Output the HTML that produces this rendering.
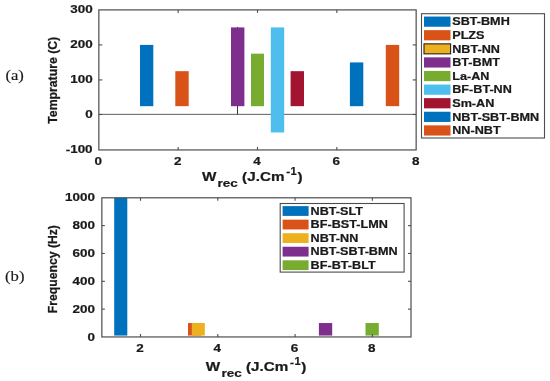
<!DOCTYPE html>
<html lang="en"><head><meta charset="utf-8"><title>Figure</title>
<style>
html,body{margin:0;padding:0;background:#fff;}
body{width:550px;height:381px;overflow:hidden;}
svg{display:block;}
</style></head>
<body>
<svg width="550" height="381" viewBox="0 0 550 381">
<rect x="0" y="0" width="550" height="381" fill="#ffffff"/>
<line x1="98.85" y1="114.35" x2="416.15" y2="114.35" stroke="#555" stroke-width="0.95"/>
<line x1="237.50" y1="114.35" x2="237.50" y2="26.91" stroke="#222" stroke-width="0.9"/>
<rect x="140.00" y="44.91" width="13.30" height="61.27" fill="#0072BD"/>
<rect x="175.30" y="71.17" width="13.40" height="35.01" fill="#D95319"/>
<rect x="231.00" y="27.41" width="13.40" height="78.78" fill="#7E2F8E"/>
<rect x="251.00" y="53.67" width="13.00" height="52.52" fill="#77AC30"/>
<rect x="270.80" y="27.41" width="13.40" height="105.04" fill="#4DBEEE"/>
<rect x="290.60" y="71.17" width="13.40" height="35.01" fill="#A2142F"/>
<rect x="349.90" y="62.42" width="13.40" height="43.77" fill="#0072BD"/>
<rect x="385.80" y="44.91" width="13.40" height="61.27" fill="#D95319"/>
<rect x="98.85" y="9.9" width="317.30" height="140.05" fill="none" stroke="#4d4d4d" stroke-width="1.2"/>
<line x1="178.17" y1="149.95" x2="178.17" y2="146.95" stroke="#4d4d4d" stroke-width="1.1"/>
<line x1="178.17" y1="9.90" x2="178.17" y2="12.90" stroke="#4d4d4d" stroke-width="1.1"/>
<line x1="257.50" y1="149.95" x2="257.50" y2="146.95" stroke="#4d4d4d" stroke-width="1.1"/>
<line x1="257.50" y1="9.90" x2="257.50" y2="12.90" stroke="#4d4d4d" stroke-width="1.1"/>
<line x1="336.82" y1="149.95" x2="336.82" y2="146.95" stroke="#4d4d4d" stroke-width="1.1"/>
<line x1="336.82" y1="9.90" x2="336.82" y2="12.90" stroke="#4d4d4d" stroke-width="1.1"/>
<text transform="translate(92.60,153.45) scale(1.2,1)" font-family='"Liberation Sans", Arial, Helvetica, sans-serif' font-size="11.2" font-weight="bold" text-anchor="end" fill="#1a1a1a" stroke="#1a1a1a" stroke-width="0.22">-100</text>
<line x1="98.85" y1="114.50" x2="102.25" y2="114.50" stroke="#4d4d4d" stroke-width="1.1"/>
<line x1="416.15" y1="114.50" x2="412.75" y2="114.50" stroke="#4d4d4d" stroke-width="1.1"/>
<text transform="translate(92.60,118.44) scale(1.2,1)" font-family='"Liberation Sans", Arial, Helvetica, sans-serif' font-size="11.2" font-weight="bold" text-anchor="end" fill="#1a1a1a" stroke="#1a1a1a" stroke-width="0.22">0</text>
<line x1="98.85" y1="79.92" x2="102.25" y2="79.92" stroke="#4d4d4d" stroke-width="1.1"/>
<line x1="416.15" y1="79.92" x2="412.75" y2="79.92" stroke="#4d4d4d" stroke-width="1.1"/>
<text transform="translate(92.60,83.42) scale(1.2,1)" font-family='"Liberation Sans", Arial, Helvetica, sans-serif' font-size="11.2" font-weight="bold" text-anchor="end" fill="#1a1a1a" stroke="#1a1a1a" stroke-width="0.22">100</text>
<line x1="98.85" y1="44.91" x2="102.25" y2="44.91" stroke="#4d4d4d" stroke-width="1.1"/>
<line x1="416.15" y1="44.91" x2="412.75" y2="44.91" stroke="#4d4d4d" stroke-width="1.1"/>
<text transform="translate(92.60,48.41) scale(1.2,1)" font-family='"Liberation Sans", Arial, Helvetica, sans-serif' font-size="11.2" font-weight="bold" text-anchor="end" fill="#1a1a1a" stroke="#1a1a1a" stroke-width="0.22">200</text>
<text transform="translate(92.60,13.40) scale(1.2,1)" font-family='"Liberation Sans", Arial, Helvetica, sans-serif' font-size="11.2" font-weight="bold" text-anchor="end" fill="#1a1a1a" stroke="#1a1a1a" stroke-width="0.22">300</text>
<text transform="translate(98.35,165.10) scale(1.2,1)" font-family='"Liberation Sans", Arial, Helvetica, sans-serif' font-size="11.2" font-weight="bold" text-anchor="middle" fill="#1a1a1a" stroke="#1a1a1a" stroke-width="0.22">0</text>
<text transform="translate(177.67,165.10) scale(1.2,1)" font-family='"Liberation Sans", Arial, Helvetica, sans-serif' font-size="11.2" font-weight="bold" text-anchor="middle" fill="#1a1a1a" stroke="#1a1a1a" stroke-width="0.22">2</text>
<text transform="translate(257.00,165.10) scale(1.2,1)" font-family='"Liberation Sans", Arial, Helvetica, sans-serif' font-size="11.2" font-weight="bold" text-anchor="middle" fill="#1a1a1a" stroke="#1a1a1a" stroke-width="0.22">4</text>
<text transform="translate(336.32,165.10) scale(1.2,1)" font-family='"Liberation Sans", Arial, Helvetica, sans-serif' font-size="11.2" font-weight="bold" text-anchor="middle" fill="#1a1a1a" stroke="#1a1a1a" stroke-width="0.22">6</text>
<text transform="translate(415.65,165.10) scale(1.2,1)" font-family='"Liberation Sans", Arial, Helvetica, sans-serif' font-size="11.2" font-weight="bold" text-anchor="middle" fill="#1a1a1a" stroke="#1a1a1a" stroke-width="0.22">8</text>
<text transform="translate(201.90,181.00) scale(1.25,1)" font-family='"Liberation Sans", Arial, Helvetica, sans-serif' font-size="12.2" font-weight="bold" text-anchor="start" fill="#1a1a1a" stroke="#1a1a1a" stroke-width="0.22">W</text>
<text transform="translate(217.60,186.60) scale(1.25,1)" font-family='"Liberation Sans", Arial, Helvetica, sans-serif' font-size="10.8" font-weight="bold" text-anchor="start" fill="#1a1a1a" stroke="#1a1a1a" stroke-width="0.22">rec</text>
<text transform="translate(242.10,181.00) scale(1.25,1)" font-family='"Liberation Sans", Arial, Helvetica, sans-serif' font-size="12.2" font-weight="bold" text-anchor="start" fill="#1a1a1a" stroke="#1a1a1a" stroke-width="0.22">(J.Cm</text>
<text transform="translate(286.20,175.40) scale(1.2,1)" font-family='"Liberation Sans", Arial, Helvetica, sans-serif' font-size="10.0" font-weight="bold" text-anchor="start" fill="#1a1a1a" stroke="#1a1a1a" stroke-width="0.22">-</text>
<text transform="translate(290.60,175.00) scale(1.05,1)" font-family='"Liberation Sans", Arial, Helvetica, sans-serif' font-size="10.6" font-weight="bold" text-anchor="start" fill="#1a1a1a" stroke="#1a1a1a" stroke-width="0.22">1</text>
<text transform="translate(297.40,181.00) scale(1.25,1)" font-family='"Liberation Sans", Arial, Helvetica, sans-serif' font-size="12.2" font-weight="bold" text-anchor="start" fill="#1a1a1a" stroke="#1a1a1a" stroke-width="0.22">)</text>
<text transform="translate(57.40,80.30) rotate(-90) scale(1.005,1.08)" font-family='"Liberation Sans", Arial, Helvetica, sans-serif' font-size="12.2" font-weight="bold" text-anchor="middle" fill="#1a1a1a" stroke="#1a1a1a" stroke-width="0.25">Temprature (C)</text>
<text transform="translate(5.40,79.90) scale(1.15,1)" font-family='"Liberation Serif", "DejaVu Serif", serif' font-size="14.5" font-weight="normal" text-anchor="start" fill="#1a1a1a" stroke="#1a1a1a" stroke-width="0.15">(a)</text>
<rect x="421.5" y="13.7" width="123.00" height="124.30" fill="#fff" stroke="#4d4d4d" stroke-width="1.1"/>
<rect x="424.00" y="16.55" width="26.50" height="10.20" fill="#0072BD"/>
<text transform="translate(452.20,25.45) scale(1.265,1)" font-family='"Liberation Sans", Arial, Helvetica, sans-serif' font-size="10.0" font-weight="bold" text-anchor="start" fill="#1a1a1a" stroke="#1a1a1a" stroke-width="0.22">SBT-BMH</text>
<rect x="424.00" y="30.15" width="26.50" height="10.20" fill="#D95319"/>
<text transform="translate(452.20,39.05) scale(1.265,1)" font-family='"Liberation Sans", Arial, Helvetica, sans-serif' font-size="10.0" font-weight="bold" text-anchor="start" fill="#1a1a1a" stroke="#1a1a1a" stroke-width="0.22">PLZS</text>
<rect x="424.00" y="43.85" width="26.60" height="10.00" fill="#EDB120" stroke="#222" stroke-width="1.1"/>
<text transform="translate(452.20,52.65) scale(1.265,1)" font-family='"Liberation Sans", Arial, Helvetica, sans-serif' font-size="10.0" font-weight="bold" text-anchor="start" fill="#1a1a1a" stroke="#1a1a1a" stroke-width="0.22">NBT-NN</text>
<rect x="424.00" y="57.35" width="26.50" height="10.20" fill="#7E2F8E"/>
<text transform="translate(452.20,66.25) scale(1.265,1)" font-family='"Liberation Sans", Arial, Helvetica, sans-serif' font-size="10.0" font-weight="bold" text-anchor="start" fill="#1a1a1a" stroke="#1a1a1a" stroke-width="0.22">BT-BMT</text>
<rect x="424.00" y="70.95" width="26.50" height="10.20" fill="#77AC30"/>
<text transform="translate(452.20,79.85) scale(1.265,1)" font-family='"Liberation Sans", Arial, Helvetica, sans-serif' font-size="10.0" font-weight="bold" text-anchor="start" fill="#1a1a1a" stroke="#1a1a1a" stroke-width="0.22">La-AN</text>
<rect x="424.00" y="84.55" width="26.50" height="10.20" fill="#4DBEEE"/>
<text transform="translate(452.20,93.45) scale(1.265,1)" font-family='"Liberation Sans", Arial, Helvetica, sans-serif' font-size="10.0" font-weight="bold" text-anchor="start" fill="#1a1a1a" stroke="#1a1a1a" stroke-width="0.22">BF-BT-NN</text>
<rect x="424.00" y="98.15" width="26.50" height="10.20" fill="#A2142F"/>
<text transform="translate(452.20,107.05) scale(1.265,1)" font-family='"Liberation Sans", Arial, Helvetica, sans-serif' font-size="10.0" font-weight="bold" text-anchor="start" fill="#1a1a1a" stroke="#1a1a1a" stroke-width="0.22">Sm-AN</text>
<rect x="424.00" y="111.75" width="26.50" height="10.20" fill="#0072BD"/>
<text transform="translate(452.20,120.65) scale(1.265,1)" font-family='"Liberation Sans", Arial, Helvetica, sans-serif' font-size="10.0" font-weight="bold" text-anchor="start" fill="#1a1a1a" stroke="#1a1a1a" stroke-width="0.22">NBT-SBT-BMN</text>
<rect x="424.00" y="125.35" width="26.50" height="10.20" fill="#D95319"/>
<text transform="translate(452.20,134.25) scale(1.265,1)" font-family='"Liberation Sans", Arial, Helvetica, sans-serif' font-size="10.0" font-weight="bold" text-anchor="start" fill="#1a1a1a" stroke="#1a1a1a" stroke-width="0.22">NN-NBT</text>
<rect x="114.20" y="197.80" width="13.10" height="137.76" fill="#0072BD"/>
<rect x="188.00" y="323.03" width="13.30" height="12.52" fill="#D95319"/>
<rect x="191.80" y="323.03" width="13.00" height="12.52" fill="#EDB120"/>
<rect x="318.90" y="323.03" width="13.30" height="12.52" fill="#7E2F8E"/>
<rect x="365.50" y="323.03" width="13.30" height="12.52" fill="#77AC30"/>
<rect x="101.85" y="197.8" width="309.15" height="139.15" fill="none" stroke="#4d4d4d" stroke-width="1.2"/>
<line x1="140.49" y1="336.95" x2="140.49" y2="333.95" stroke="#4d4d4d" stroke-width="1.1"/>
<line x1="140.49" y1="197.80" x2="140.49" y2="200.80" stroke="#4d4d4d" stroke-width="1.1"/>
<text transform="translate(139.89,351.70) scale(1.2,1)" font-family='"Liberation Sans", Arial, Helvetica, sans-serif' font-size="11.2" font-weight="bold" text-anchor="middle" fill="#1a1a1a" stroke="#1a1a1a" stroke-width="0.22">2</text>
<line x1="217.78" y1="336.95" x2="217.78" y2="333.95" stroke="#4d4d4d" stroke-width="1.1"/>
<line x1="217.78" y1="197.80" x2="217.78" y2="200.80" stroke="#4d4d4d" stroke-width="1.1"/>
<text transform="translate(217.18,351.70) scale(1.2,1)" font-family='"Liberation Sans", Arial, Helvetica, sans-serif' font-size="11.2" font-weight="bold" text-anchor="middle" fill="#1a1a1a" stroke="#1a1a1a" stroke-width="0.22">4</text>
<line x1="295.07" y1="336.95" x2="295.07" y2="333.95" stroke="#4d4d4d" stroke-width="1.1"/>
<line x1="295.07" y1="197.80" x2="295.07" y2="200.80" stroke="#4d4d4d" stroke-width="1.1"/>
<text transform="translate(294.47,351.70) scale(1.2,1)" font-family='"Liberation Sans", Arial, Helvetica, sans-serif' font-size="11.2" font-weight="bold" text-anchor="middle" fill="#1a1a1a" stroke="#1a1a1a" stroke-width="0.22">6</text>
<line x1="372.36" y1="336.95" x2="372.36" y2="333.95" stroke="#4d4d4d" stroke-width="1.1"/>
<line x1="372.36" y1="197.80" x2="372.36" y2="200.80" stroke="#4d4d4d" stroke-width="1.1"/>
<text transform="translate(371.76,351.70) scale(1.2,1)" font-family='"Liberation Sans", Arial, Helvetica, sans-serif' font-size="11.2" font-weight="bold" text-anchor="middle" fill="#1a1a1a" stroke="#1a1a1a" stroke-width="0.22">8</text>
<text transform="translate(95.00,340.75) scale(1.2,1)" font-family='"Liberation Sans", Arial, Helvetica, sans-serif' font-size="11.2" font-weight="bold" text-anchor="end" fill="#1a1a1a" stroke="#1a1a1a" stroke-width="0.22">0</text>
<line x1="101.85" y1="309.12" x2="104.85" y2="309.12" stroke="#4d4d4d" stroke-width="1.1"/>
<line x1="411.00" y1="309.12" x2="408.00" y2="309.12" stroke="#4d4d4d" stroke-width="1.1"/>
<text transform="translate(95.00,312.52) scale(1.2,1)" font-family='"Liberation Sans", Arial, Helvetica, sans-serif' font-size="11.2" font-weight="bold" text-anchor="end" fill="#1a1a1a" stroke="#1a1a1a" stroke-width="0.22">200</text>
<line x1="101.85" y1="281.29" x2="104.85" y2="281.29" stroke="#4d4d4d" stroke-width="1.1"/>
<line x1="411.00" y1="281.29" x2="408.00" y2="281.29" stroke="#4d4d4d" stroke-width="1.1"/>
<text transform="translate(95.00,284.69) scale(1.2,1)" font-family='"Liberation Sans", Arial, Helvetica, sans-serif' font-size="11.2" font-weight="bold" text-anchor="end" fill="#1a1a1a" stroke="#1a1a1a" stroke-width="0.22">400</text>
<line x1="101.85" y1="253.46" x2="104.85" y2="253.46" stroke="#4d4d4d" stroke-width="1.1"/>
<line x1="411.00" y1="253.46" x2="408.00" y2="253.46" stroke="#4d4d4d" stroke-width="1.1"/>
<text transform="translate(95.00,256.86) scale(1.2,1)" font-family='"Liberation Sans", Arial, Helvetica, sans-serif' font-size="11.2" font-weight="bold" text-anchor="end" fill="#1a1a1a" stroke="#1a1a1a" stroke-width="0.22">600</text>
<line x1="101.85" y1="225.63" x2="104.85" y2="225.63" stroke="#4d4d4d" stroke-width="1.1"/>
<line x1="411.00" y1="225.63" x2="408.00" y2="225.63" stroke="#4d4d4d" stroke-width="1.1"/>
<text transform="translate(95.00,229.03) scale(1.2,1)" font-family='"Liberation Sans", Arial, Helvetica, sans-serif' font-size="11.2" font-weight="bold" text-anchor="end" fill="#1a1a1a" stroke="#1a1a1a" stroke-width="0.22">800</text>
<text transform="translate(95.00,201.20) scale(1.2,1)" font-family='"Liberation Sans", Arial, Helvetica, sans-serif' font-size="11.2" font-weight="bold" text-anchor="end" fill="#1a1a1a" stroke="#1a1a1a" stroke-width="0.22">1000</text>
<text transform="translate(205.70,371.20) scale(1.25,1)" font-family='"Liberation Sans", Arial, Helvetica, sans-serif' font-size="12.2" font-weight="bold" text-anchor="start" fill="#1a1a1a" stroke="#1a1a1a" stroke-width="0.22">W</text>
<text transform="translate(221.40,376.80) scale(1.25,1)" font-family='"Liberation Sans", Arial, Helvetica, sans-serif' font-size="10.8" font-weight="bold" text-anchor="start" fill="#1a1a1a" stroke="#1a1a1a" stroke-width="0.22">rec</text>
<text transform="translate(245.90,371.20) scale(1.25,1)" font-family='"Liberation Sans", Arial, Helvetica, sans-serif' font-size="12.2" font-weight="bold" text-anchor="start" fill="#1a1a1a" stroke="#1a1a1a" stroke-width="0.22">(J.Cm</text>
<text transform="translate(290.00,365.60) scale(1.2,1)" font-family='"Liberation Sans", Arial, Helvetica, sans-serif' font-size="10.0" font-weight="bold" text-anchor="start" fill="#1a1a1a" stroke="#1a1a1a" stroke-width="0.22">-</text>
<text transform="translate(294.40,365.20) scale(1.05,1)" font-family='"Liberation Sans", Arial, Helvetica, sans-serif' font-size="10.6" font-weight="bold" text-anchor="start" fill="#1a1a1a" stroke="#1a1a1a" stroke-width="0.22">1</text>
<text transform="translate(301.20,371.20) scale(1.25,1)" font-family='"Liberation Sans", Arial, Helvetica, sans-serif' font-size="12.2" font-weight="bold" text-anchor="start" fill="#1a1a1a" stroke="#1a1a1a" stroke-width="0.22">)</text>
<text transform="translate(56.60,269.10) rotate(-90) scale(1.0,1.08)" font-family='"Liberation Sans", Arial, Helvetica, sans-serif' font-size="12.2" font-weight="bold" text-anchor="middle" fill="#1a1a1a" stroke="#1a1a1a" stroke-width="0.25">Frequency (Hz)</text>
<text transform="translate(5.00,281.20) scale(1.15,1)" font-family='"Liberation Serif", "DejaVu Serif", serif' font-size="14.5" font-weight="normal" text-anchor="start" fill="#1a1a1a" stroke="#1a1a1a" stroke-width="0.15">(b)</text>
<rect x="280.2" y="203.5" width="123.90" height="68.60" fill="#fff" stroke="#4d4d4d" stroke-width="1.1"/>
<rect x="282.60" y="206.10" width="26.00" height="9.80" fill="#0072BD"/>
<text transform="translate(310.60,214.80) scale(1.265,1)" font-family='"Liberation Sans", Arial, Helvetica, sans-serif' font-size="10.0" font-weight="bold" text-anchor="start" fill="#1a1a1a" stroke="#1a1a1a" stroke-width="0.22">NBT-SLT</text>
<rect x="282.60" y="219.65" width="26.00" height="9.80" fill="#D95319"/>
<text transform="translate(310.60,228.35) scale(1.265,1)" font-family='"Liberation Sans", Arial, Helvetica, sans-serif' font-size="10.0" font-weight="bold" text-anchor="start" fill="#1a1a1a" stroke="#1a1a1a" stroke-width="0.22">BF-BST-LMN</text>
<rect x="282.60" y="233.20" width="26.00" height="9.80" fill="#EDB120"/>
<text transform="translate(310.60,241.90) scale(1.265,1)" font-family='"Liberation Sans", Arial, Helvetica, sans-serif' font-size="10.0" font-weight="bold" text-anchor="start" fill="#1a1a1a" stroke="#1a1a1a" stroke-width="0.22">NBT-NN</text>
<rect x="282.60" y="246.75" width="26.00" height="9.80" fill="#7E2F8E"/>
<text transform="translate(310.60,255.45) scale(1.265,1)" font-family='"Liberation Sans", Arial, Helvetica, sans-serif' font-size="10.0" font-weight="bold" text-anchor="start" fill="#1a1a1a" stroke="#1a1a1a" stroke-width="0.22">NBT-SBT-BMN</text>
<rect x="282.60" y="260.30" width="26.00" height="9.80" fill="#77AC30"/>
<text transform="translate(310.60,269.00) scale(1.265,1)" font-family='"Liberation Sans", Arial, Helvetica, sans-serif' font-size="10.0" font-weight="bold" text-anchor="start" fill="#1a1a1a" stroke="#1a1a1a" stroke-width="0.22">BF-BT-BLT</text>
</svg>
</body></html>
